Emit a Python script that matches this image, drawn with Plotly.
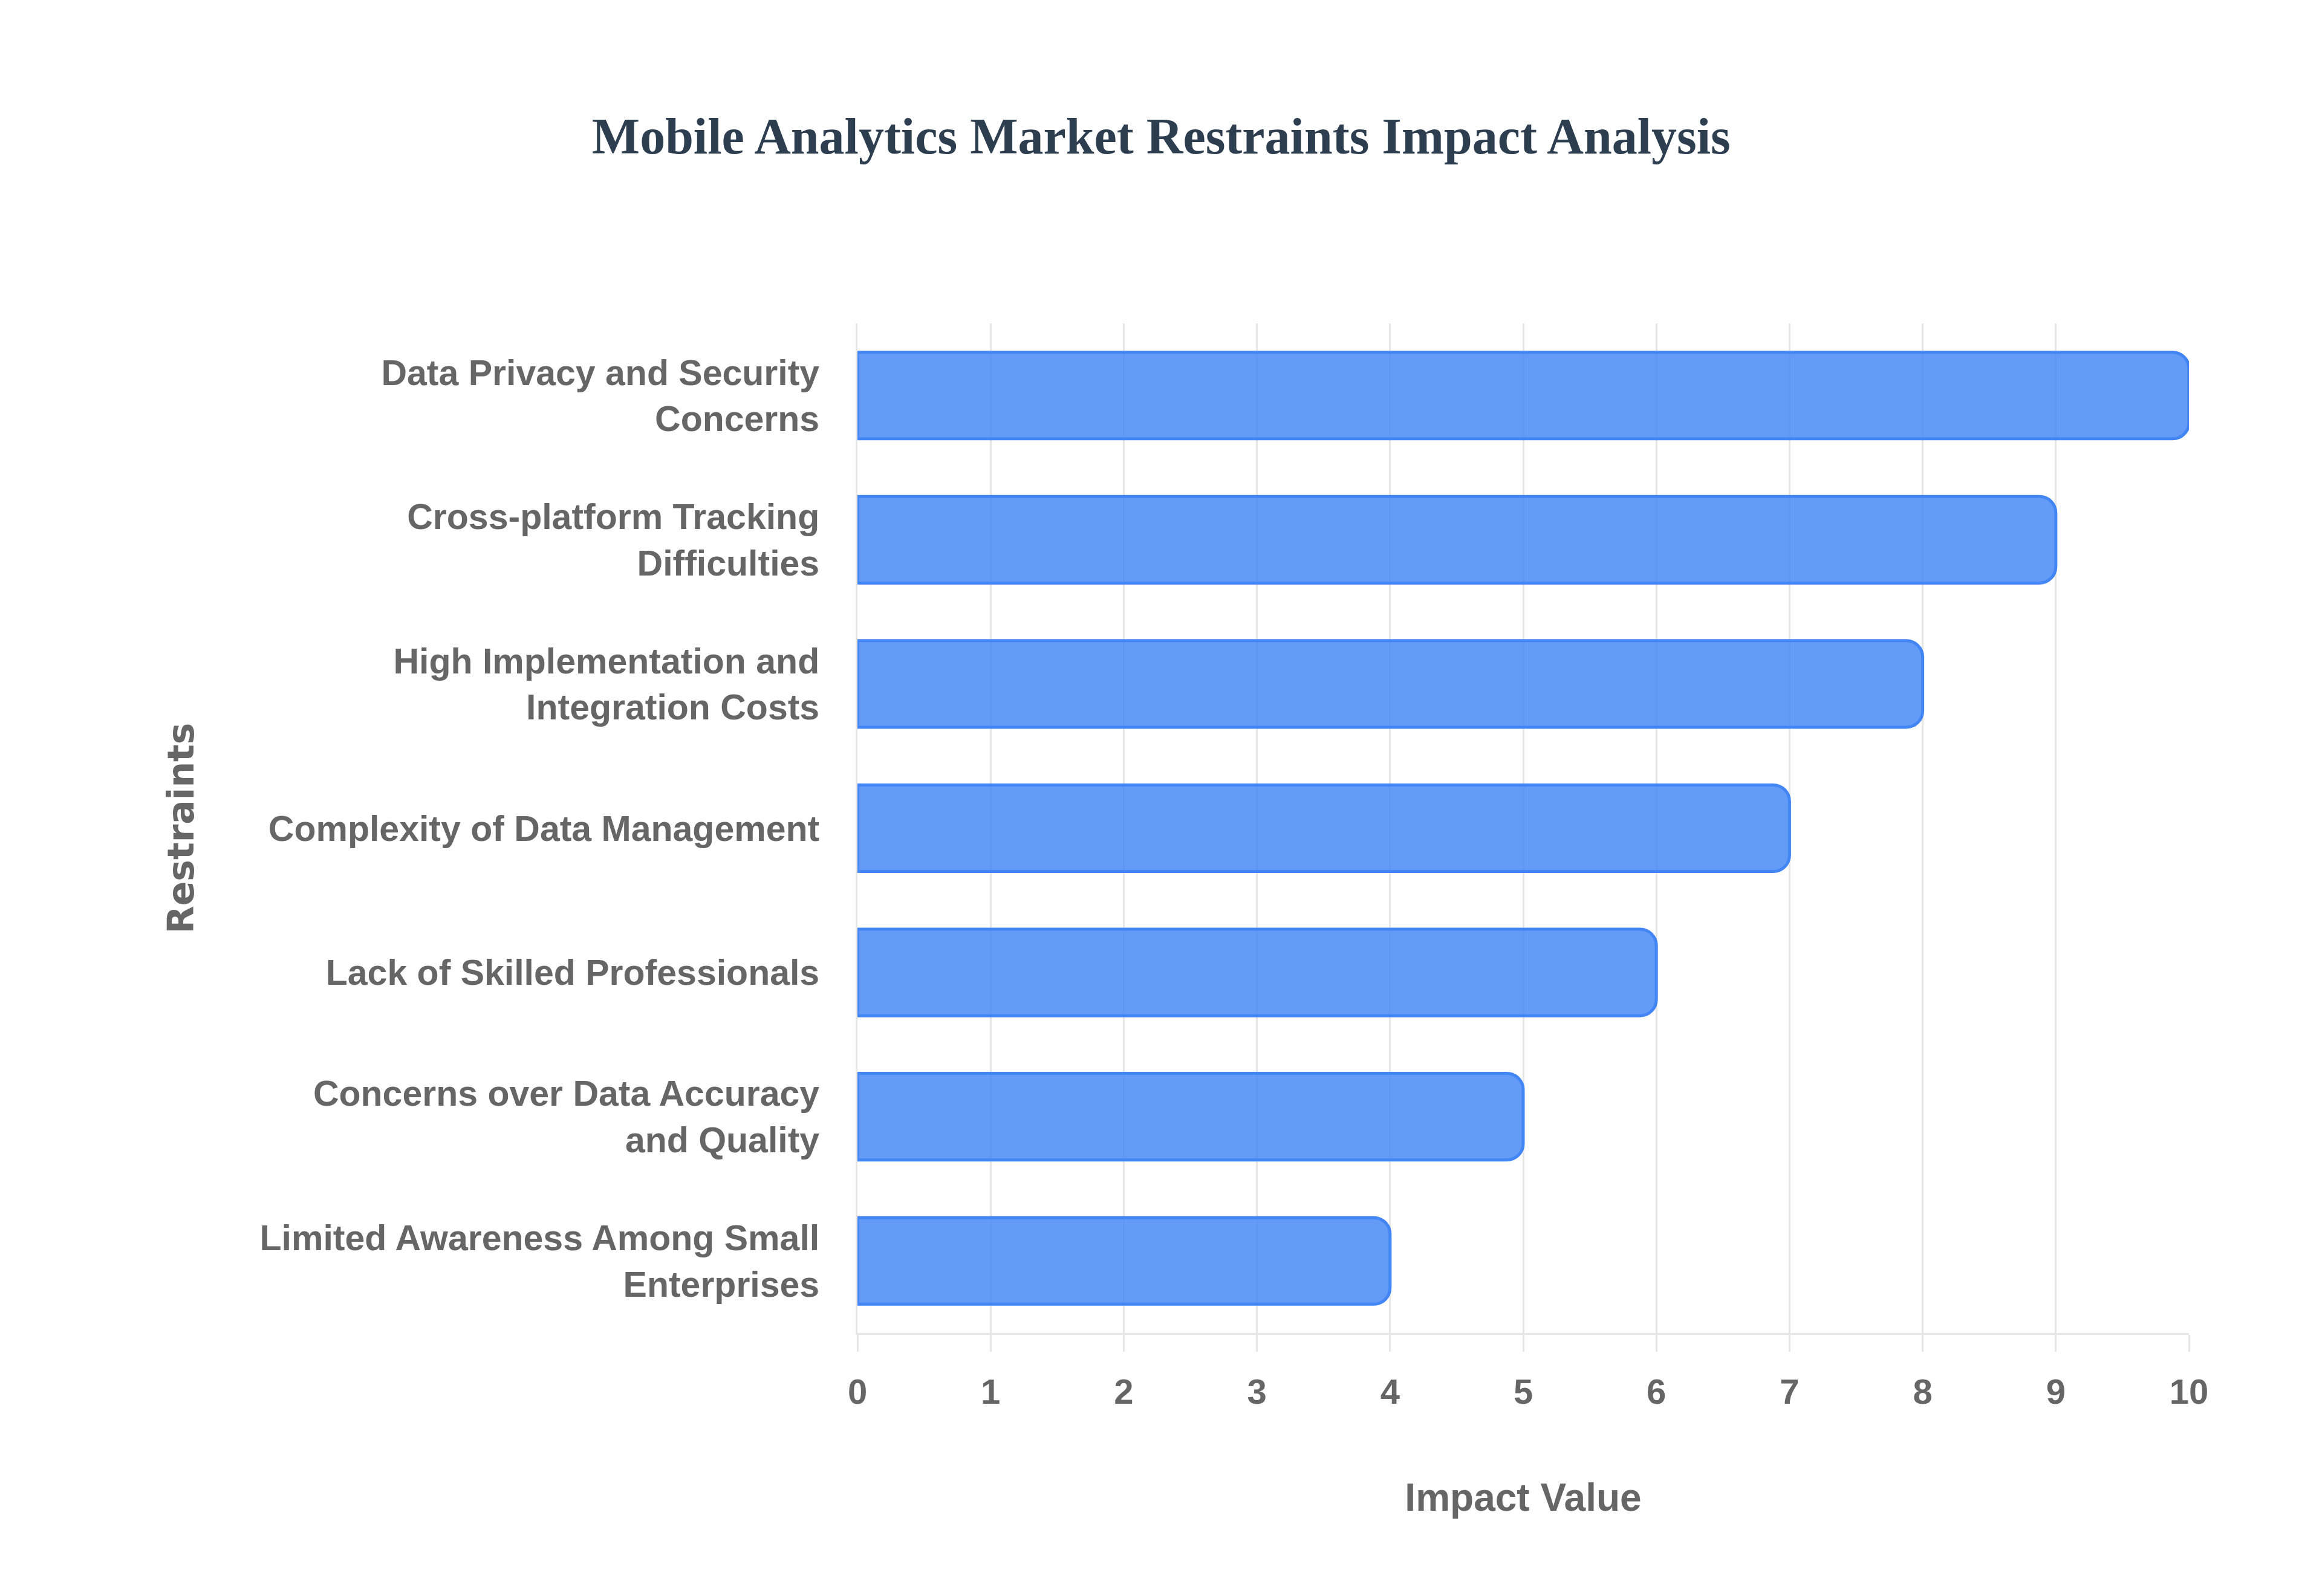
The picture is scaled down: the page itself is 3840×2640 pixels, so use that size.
import plotly.graph_objects as go

categories = [
    "Data Privacy and Security<br>Concerns",
    "Cross-platform Tracking<br>Difficulties",
    "High Implementation and<br>Integration Costs",
    "Complexity of Data Management",
    "Lack of Skilled Professionals",
    "Concerns over Data Accuracy<br>and Quality",
    "Limited Awareness Among Small<br>Enterprises",
]
impact_values = [10, 9, 8, 7, 6, 5, 4]
x_ticks = [0, 1, 2, 3, 4, 5, 6, 7, 8, 9, 10]

title_text = "Mobile Analytics Market Restraints Impact Analysis"
x_title = "Impact Value"
y_title = "Restraints"

W, H = 3840, 2640
GRID = "#e6e6e6"
LABEL = "#666666"

fig = go.Figure(
    go.Bar(
        x=impact_values,
        y=categories,
        orientation="h",
        marker=dict(
            color="rgba(66,133,244,0.82)",
            line=dict(color="#4285f4", width=5),
            cornerradius=27,
        ),
        hoverinfo="x+y",
    )
)

fig.update_layout(
    width=W,
    height=H,
    paper_bgcolor="white",
    plot_bgcolor="white",
    margin=dict(l=1410, r=228, t=527, b=443),
    bargap=0.4,
    showlegend=False,
    title=dict(
        text=title_text,
        x=0.498,
        xanchor="center",
        xref="container",
        y=1 - 217 / H,
        yref="container",
        yanchor="middle",
        font=dict(family="Liberation Serif, Times New Roman, serif", size=84,
                  color="#2c3e50", weight="bold"),
    ),
    font=dict(family="Liberation Sans, Arial, sans-serif", color=LABEL),
)

fig.update_xaxes(
    range=[0, 10],
    tickmode="array",
    tickvals=x_ticks,
    ticktext=[str(v) for v in x_ticks],
    showgrid=True,
    gridcolor=GRID,
    gridwidth=3,
    zeroline=False,
    showline=True,
    linecolor=GRID,
    linewidth=3,
    ticks="outside",
    ticklen=28,
    tickwidth=3,
    tickcolor=GRID,
    ticklabelstandoff=16,
    tickfont=dict(family="Liberation Sans, Arial, sans-serif", size=58,
                  color=LABEL, weight="bold"),
    title=dict(
        text=x_title,
        standoff=122,
        font=dict(family="Liberation Sans, Arial, sans-serif", size=64,
                  color=LABEL, weight="bold"),
    ),
    automargin=False,
)

fig.update_yaxes(
    categoryorder="array",
    categoryarray=categories[::-1],
    showgrid=False,
    zeroline=False,
    showline=True,
    linecolor=GRID,
    linewidth=3,
    ticks="",
    ticklabelstandoff=48,
    tickfont=dict(family="Liberation Sans, Arial, sans-serif", size=59,
                  color=LABEL, weight="bold"),
    title=dict(
        text=y_title,
        standoff=90,
        font=dict(family="DejaVu Sans, Verdana, sans-serif", size=60,
                  color=LABEL, weight="bold"),
    ),
    automargin=False,
)

fig.write_html("out.html")
